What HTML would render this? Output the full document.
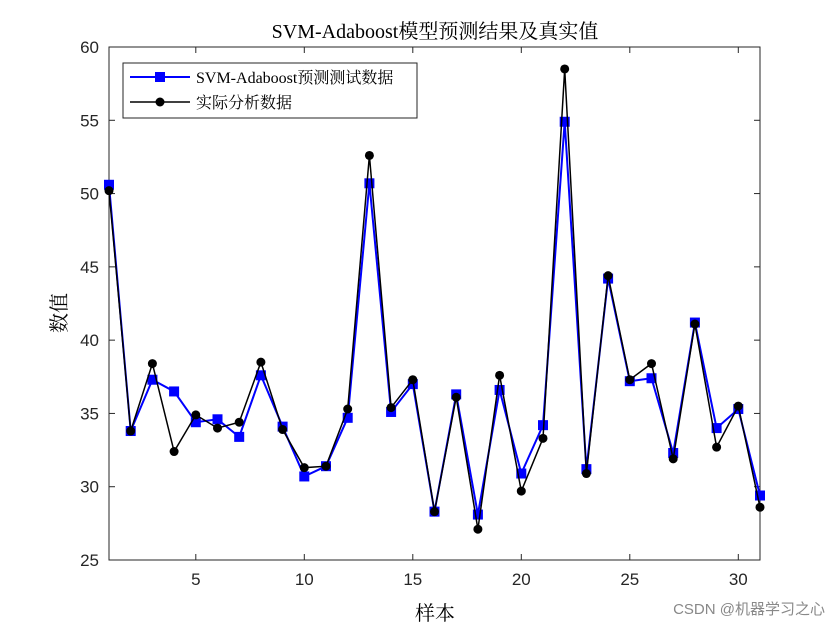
<!DOCTYPE html>
<html><head><meta charset="utf-8"><style>
body{margin:0;background:#fff;}
svg text{font-family:"Liberation Serif","Noto Serif CJK SC",serif;}
</style></head><body>
<svg id="chart" width="840" height="630">
<rect x="0" y="0" width="840" height="630" fill="#fff"/>
<text x="435" y="38" font-size="20" text-anchor="middle" fill="#000">SVM-Adaboost模型预测结果及真实值</text>
<rect x="109" y="47" width="651" height="513" fill="#fff" stroke="#262626" stroke-width="1"/>
<g id="ticks"></g>
<g id="series"></g>
<text x="435" y="620" font-size="20" text-anchor="middle">样本</text>
<text x="0" y="0" font-size="20" text-anchor="middle" transform="translate(66,313) rotate(-90)">数值</text>
<g>
<rect x="123" y="63" width="294" height="55" fill="#fff" stroke="#262626" stroke-width="1"/>
<line x1="130" y1="77" x2="190" y2="77" stroke="#0000ff" stroke-width="2"/>
<rect x="155" y="72" width="10" height="10" fill="#0000ff"/>
<text x="196" y="83" font-size="16">SVM-Adaboost预测测试数据</text>
<line x1="130" y1="102" x2="190" y2="102" stroke="#000" stroke-width="1.5"/>
<circle cx="160" cy="102" r="4.5" fill="#000"/>
<text x="196" y="108" font-size="16">实际分析数据</text>
</g>
<text x="825" y="614" font-size="15" text-anchor="end" fill="#888" style="font-family:'Liberation Sans','Noto Sans CJK SC',sans-serif">CSDN @机器学习之心</text>
</svg>
<script>
const xTicks=[5,10,15,20,25,30];
const yTicks=[25,30,35,40,45,50,55,60];
const predValues=[50.6,33.8,37.3,36.5,34.4,34.6,33.4,37.6,34.1,30.7,31.4,34.7,50.7,35.1,37.0,28.3,36.3,28.1,36.6,30.9,34.2,54.9,31.2,44.2,37.2,37.4,32.3,41.2,34.0,35.3,29.4];
const actualValues=[50.2,33.8,38.4,32.4,34.9,34.0,34.4,38.5,33.9,31.3,31.4,35.3,52.6,35.4,37.3,28.3,36.1,27.1,37.6,29.7,33.3,58.5,30.9,44.4,37.3,38.4,31.9,41.1,32.7,35.5,28.6];
const L=109,R=760,T=47,B=560;
const xs=i=>L+(i-1)*(R-L)/30;
const ys=v=>B-(v-25)*(B-T)/35;
const NS='http://www.w3.org/2000/svg';
function mk(tag,attrs,parent){const e=document.createElementNS(NS,tag);for(const k in attrs)e.setAttribute(k,attrs[k]);parent.appendChild(e);return e;}
const tg=document.getElementById('ticks');
xTicks.forEach(t=>{
 const x=xs(t);
 const a=mk('line',{x1:x,y1:B,x2:x,y2:B-6,stroke:'#262626'},tg);
 
 
 const b=mk('line',{x1:x,y1:T,x2:x,y2:T+6,stroke:'#262626'},tg);
 
 
 const tx=mk('text',{x:x,y:B+25,'font-size':17,'text-anchor':'middle',style:"font-family:'Liberation Sans',sans-serif",fill:'#262626'},tg);
 tx.textContent=t;
 
 
});
yTicks.forEach(t=>{
 const y=ys(t);
 const a=mk('line',{x1:L,y1:y,x2:L+6,y2:y,stroke:'#262626'},tg);
 
 
 const b=mk('line',{x1:R,y1:y,x2:R-6,y2:y,stroke:'#262626'},tg);
 
 
 const tx=mk('text',{x:L-10,y:y+6,'font-size':17,'text-anchor':'end',style:"font-family:'Liberation Sans',sans-serif",fill:'#262626'},tg);
 tx.textContent=t;
 
 
});
const sg=document.getElementById('series');
const pp=predValues.map((v,i)=>xs(i+1)+','+ys(v)).join(' ');
const pl=mk('polyline',{points:pp,fill:'none',stroke:'#0000ff','stroke-width':2},sg);


predValues.forEach((v,i)=>{
 const r=mk('rect',{x:xs(i+1)-5,y:ys(v)-5,width:10,height:10,fill:'#0000ff'},sg);
 
 
});
const ap=actualValues.map((v,i)=>xs(i+1)+','+ys(v)).join(' ');
const al=mk('polyline',{points:ap,fill:'none',stroke:'#000','stroke-width':1.5},sg);


actualValues.forEach((v,i)=>{
 const c=mk('circle',{cx:xs(i+1),cy:ys(v),r:4.5,fill:'#000'},sg);
 
 
});
</script>
</body></html>
